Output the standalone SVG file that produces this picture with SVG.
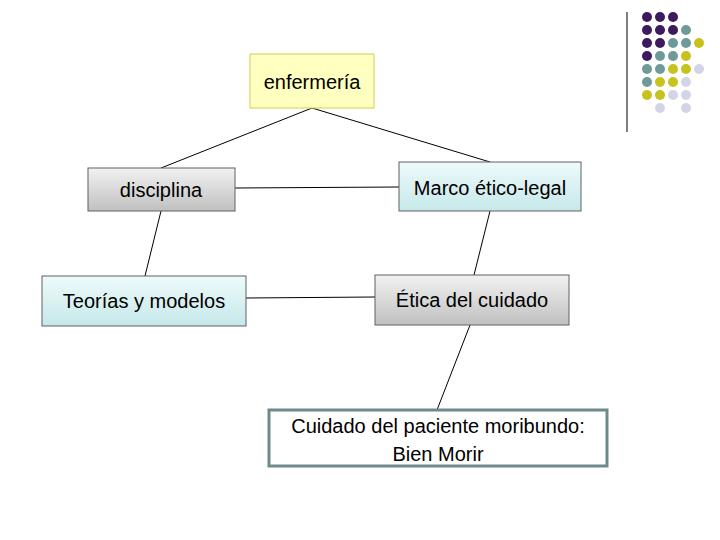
<svg xmlns="http://www.w3.org/2000/svg" width="720" height="540" viewBox="0 0 720 540">
<defs>
<linearGradient id="g" x1="0" y1="0" x2="0" y2="1"><stop offset="0" stop-color="#f2f2f2"/><stop offset="1" stop-color="#c0c0c0"/></linearGradient>
<linearGradient id="c" x1="0" y1="0" x2="0" y2="1"><stop offset="0" stop-color="#eefafa"/><stop offset="1" stop-color="#c6e8ea"/></linearGradient>
<style>
text{font-family:"Liberation Sans",Arial,sans-serif;font-size:20px;fill:#000;text-anchor:middle}
.b{stroke:#606060;stroke-width:1}
.l{stroke:#000;stroke-width:1;fill:none}
.P{fill:#3d1a5e}.T{fill:#6e9a9a}.Y{fill:#c8c21e}.L{fill:#d4d4e8}
</style>
</defs>
<rect width="720" height="540" fill="#fff"/>
<g id="deco">
<line x1="627" y1="12" x2="627" y2="132" stroke="#000"/>
<g>
<circle class="P" cx="647" cy="17" r="5"/><circle class="P" cx="660" cy="17" r="5"/><circle class="P" cx="673" cy="17" r="5"/>
<circle class="P" cx="647" cy="30" r="5"/><circle class="P" cx="660" cy="30" r="5"/><circle class="P" cx="673" cy="30" r="5"/><circle class="T" cx="686" cy="30" r="5"/>
<circle class="P" cx="647" cy="43" r="5"/><circle class="P" cx="660" cy="43" r="5"/><circle class="T" cx="673" cy="43" r="5"/><circle class="T" cx="686" cy="43" r="5"/><circle class="Y" cx="699" cy="43" r="5"/>
<circle class="P" cx="647" cy="56" r="5"/><circle class="T" cx="660" cy="56" r="5"/><circle class="T" cx="673" cy="56" r="5"/><circle class="Y" cx="686" cy="56" r="5"/>
<circle class="T" cx="647" cy="69" r="5"/><circle class="T" cx="660" cy="69" r="5"/><circle class="Y" cx="673" cy="69" r="5"/><circle class="Y" cx="686" cy="69" r="5"/><circle class="L" cx="699" cy="69" r="5"/>
<circle class="T" cx="647" cy="82" r="5"/><circle class="Y" cx="660" cy="82" r="5"/><circle class="Y" cx="673" cy="82" r="5"/><circle class="L" cx="686" cy="82" r="5"/>
<circle class="Y" cx="647" cy="95" r="5"/><circle class="Y" cx="660" cy="95" r="5"/><circle class="L" cx="673" cy="95" r="5"/><circle class="L" cx="686" cy="95" r="5"/>
<circle class="L" cx="660" cy="108" r="5"/><circle class="L" cx="686" cy="108" r="5"/>
</g>
</g>
<g id="connectors">
<line class="l" x1="312" y1="108" x2="161" y2="168"/>
<line class="l" x1="312" y1="108" x2="490" y2="162"/>
<line class="l" x1="235" y1="188" x2="399" y2="187"/>
<line class="l" x1="161" y1="211" x2="145" y2="276"/>
<line class="l" x1="490" y1="211" x2="474" y2="275"/>
<line class="l" x1="246" y1="298" x2="375" y2="297"/>
<line class="l" x1="470" y1="325" x2="437" y2="410"/>
</g>
<g id="enfermeria"><rect x="250" y="54" width="124" height="54" fill="#ffffc0" stroke="#d0d050"/><text x="312" y="89">enfermería</text></g>
<g id="disciplina"><rect class="b" x="88" y="168" width="147" height="43" fill="url(#g)"/><text x="161" y="197">disciplina</text></g>
<g id="marco"><rect class="b" x="399" y="162" width="182" height="49" fill="url(#c)"/><text x="490" y="195">Marco ético-legal</text></g>
<g id="teorias"><rect class="b" x="42" y="276" width="204" height="50" fill="url(#c)"/><text x="144" y="308">Teorías y modelos</text></g>
<g id="etica"><rect class="b" x="375" y="275" width="194" height="50" fill="url(#g)"/><text x="472" y="307">Ética del cuidado</text></g>
<g id="cuidado"><rect x="269" y="410" width="338" height="56" fill="#fff" stroke="#6e8a8a" stroke-width="3"/><text x="438" y="433">Cuidado del paciente moribundo:</text><text x="438" y="461">Bien Morir</text></g>
</svg>
